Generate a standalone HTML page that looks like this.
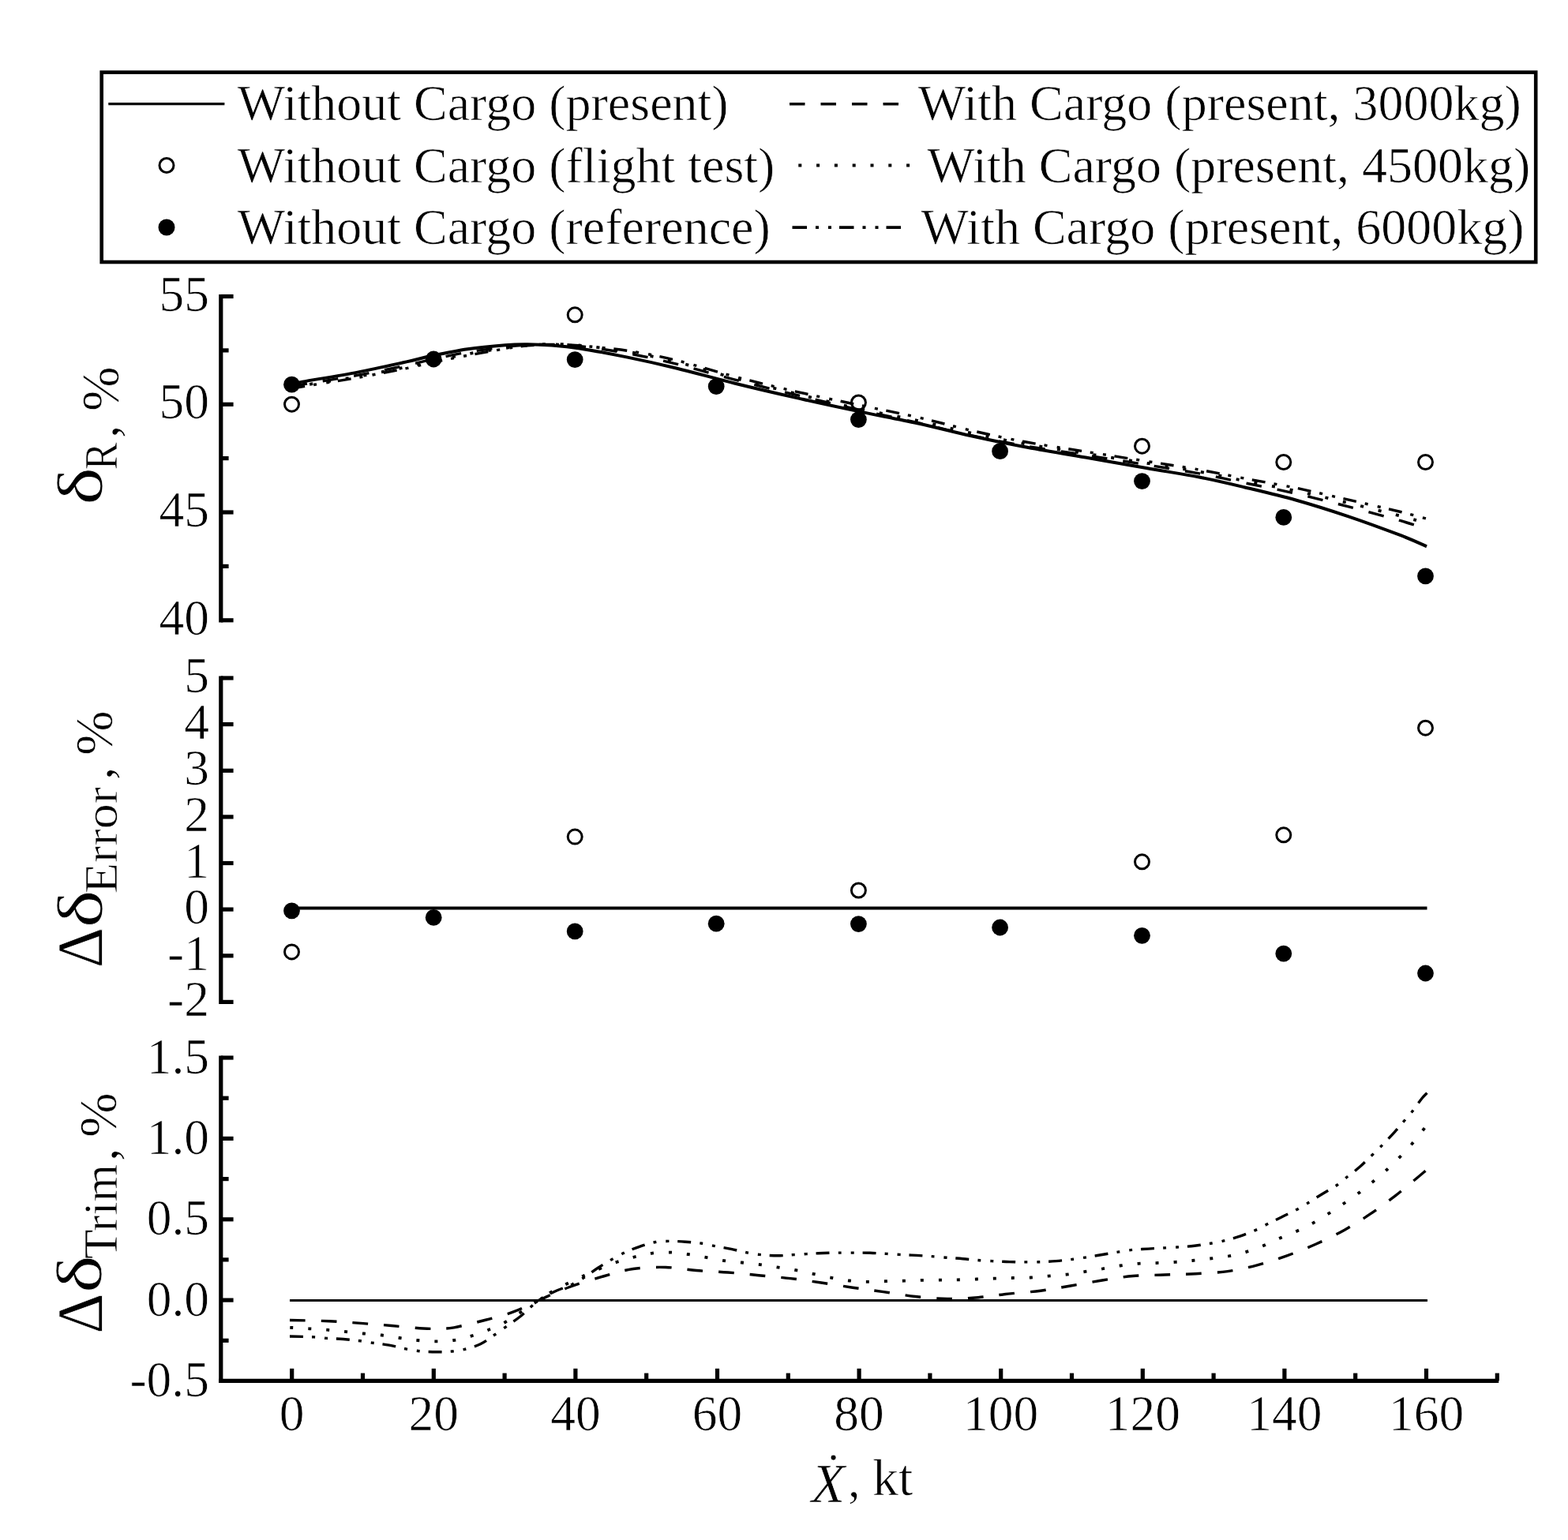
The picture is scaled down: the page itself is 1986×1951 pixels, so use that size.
<!DOCTYPE html>
<html><head><meta charset="utf-8"><title>Figure</title>
<style>
html,body{margin:0;padding:0;background:#fff;overflow:hidden;width:1986px;height:1951px;}
svg{display:block;}
text{font-family:'Liberation Serif', 'Times New Roman', serif;fill:#000;stroke:#fff;stroke-width:0.7px;}
</style></head><body>
<svg width="1986" height="1951" viewBox="0 0 1986 1951">
<rect x="0" y="0" width="1986" height="1951" fill="#fff"/>
<rect x="128.7" y="91.6" width="1816.5" height="240.4" fill="none" stroke="#000" stroke-width="4.6"/>
<line x1="137.3" y1="131.6" x2="284.4" y2="131.6" stroke="#000" stroke-width="3.2"/>
<circle cx="211" cy="209.5" r="9" fill="none" stroke="#000" stroke-width="3"/>
<circle cx="211" cy="288" r="10.5" fill="#000"/>
<text x="300.8" y="152.3" font-size="64">Without Cargo (present)</text>
<text x="300.8" y="230.8" font-size="64">Without Cargo (flight test)</text>
<text x="300.8" y="308.6" font-size="64">Without Cargo (reference)</text>
<line x1="1000" y1="131.8" x2="1140" y2="131.8" stroke="#000" stroke-width="3.4" stroke-dasharray="19.5 20"/>
<line x1="1011.3" y1="209.6" x2="1153" y2="209.6" stroke="#000" stroke-width="4" stroke-dasharray="4 18.8"/>
<line x1="1003.5" y1="288.2" x2="1142" y2="288.2" stroke="#000" stroke-width="3.8" stroke-dasharray="18.5 11 4 12 4 10"/>
<text x="1162.7" y="152.3" font-size="64">With Cargo (present, 3000kg)</text>
<text x="1174.3" y="230.8" font-size="64">With Cargo (present, 4500kg)</text>
<text x="1166.5" y="308.6" font-size="64">With Cargo (present, 6000kg)</text>
<line x1="279.8" y1="373.0" x2="279.8" y2="788.4" stroke="#000" stroke-width="5.2"/>
<line x1="279.8" y1="375.5" x2="295.6" y2="375.5" stroke="#000" stroke-width="5.2"/>
<text x="265" y="393.5" font-size="63.5" text-anchor="end">55</text>
<line x1="279.8" y1="512.3" x2="295.6" y2="512.3" stroke="#000" stroke-width="5.2"/>
<text x="265" y="530.3" font-size="63.5" text-anchor="end">50</text>
<line x1="279.8" y1="649.0" x2="295.6" y2="649.0" stroke="#000" stroke-width="5.2"/>
<text x="265" y="667.0" font-size="63.5" text-anchor="end">45</text>
<line x1="279.8" y1="785.8" x2="295.6" y2="785.8" stroke="#000" stroke-width="5.2"/>
<text x="265" y="803.8" font-size="63.5" text-anchor="end">40</text>
<line x1="279.8" y1="443.9" x2="289.6" y2="443.9" stroke="#000" stroke-width="5.2"/>
<line x1="279.8" y1="580.6" x2="289.6" y2="580.6" stroke="#000" stroke-width="5.2"/>
<line x1="279.8" y1="717.4" x2="289.6" y2="717.4" stroke="#000" stroke-width="5.2"/>
<line x1="279.8" y1="856.4" x2="279.8" y2="1272.0" stroke="#000" stroke-width="5.2"/>
<line x1="279.8" y1="859.0" x2="295.6" y2="859.0" stroke="#000" stroke-width="5.2"/>
<text x="265" y="877.0" font-size="63.5" text-anchor="end">5</text>
<line x1="279.8" y1="917.6" x2="295.6" y2="917.6" stroke="#000" stroke-width="5.2"/>
<text x="265" y="935.6" font-size="63.5" text-anchor="end">4</text>
<line x1="279.8" y1="976.3" x2="295.6" y2="976.3" stroke="#000" stroke-width="5.2"/>
<text x="265" y="994.3" font-size="63.5" text-anchor="end">3</text>
<line x1="279.8" y1="1034.9" x2="295.6" y2="1034.9" stroke="#000" stroke-width="5.2"/>
<text x="265" y="1052.9" font-size="63.5" text-anchor="end">2</text>
<line x1="279.8" y1="1093.5" x2="295.6" y2="1093.5" stroke="#000" stroke-width="5.2"/>
<text x="265" y="1111.5" font-size="63.5" text-anchor="end">1</text>
<line x1="279.8" y1="1152.1" x2="295.6" y2="1152.1" stroke="#000" stroke-width="5.2"/>
<text x="265" y="1170.1" font-size="63.5" text-anchor="end">0</text>
<line x1="279.8" y1="1210.8" x2="295.6" y2="1210.8" stroke="#000" stroke-width="5.2"/>
<text x="265" y="1228.8" font-size="63.5" text-anchor="end">-1</text>
<line x1="279.8" y1="1269.4" x2="295.6" y2="1269.4" stroke="#000" stroke-width="5.2"/>
<text x="265" y="1287.4" font-size="63.5" text-anchor="end">-2</text>
<line x1="279.8" y1="1337.4" x2="279.8" y2="1751.9" stroke="#000" stroke-width="5.2"/>
<line x1="279.8" y1="1340.0" x2="295.6" y2="1340.0" stroke="#000" stroke-width="5.2"/>
<text x="265" y="1359.5" font-size="63.5" text-anchor="end">1.5</text>
<line x1="279.8" y1="1442.4" x2="295.6" y2="1442.4" stroke="#000" stroke-width="5.2"/>
<text x="265" y="1461.9" font-size="63.5" text-anchor="end">1.0</text>
<line x1="279.8" y1="1544.8" x2="295.6" y2="1544.8" stroke="#000" stroke-width="5.2"/>
<text x="265" y="1564.2" font-size="63.5" text-anchor="end">0.5</text>
<line x1="279.8" y1="1647.1" x2="295.6" y2="1647.1" stroke="#000" stroke-width="5.2"/>
<text x="265" y="1666.6" font-size="63.5" text-anchor="end">0.0</text>
<text x="265" y="1769.0" font-size="63.5" text-anchor="end">-0.5</text>
<line x1="279.8" y1="1391.2" x2="289.6" y2="1391.2" stroke="#000" stroke-width="5.2"/>
<line x1="279.8" y1="1493.6" x2="289.6" y2="1493.6" stroke="#000" stroke-width="5.2"/>
<line x1="279.8" y1="1595.9" x2="289.6" y2="1595.9" stroke="#000" stroke-width="5.2"/>
<line x1="279.8" y1="1698.3" x2="289.6" y2="1698.3" stroke="#000" stroke-width="5.2"/>
<line x1="277.2" y1="1749.3" x2="1898.2" y2="1749.3" stroke="#000" stroke-width="5.2"/>
<line x1="369.7" y1="1749.3" x2="369.7" y2="1733.8" stroke="#000" stroke-width="5.2"/>
<text x="369.7" y="1812.2" font-size="63.5" text-anchor="middle">0</text>
<line x1="459.5" y1="1749.3" x2="459.5" y2="1739.6" stroke="#000" stroke-width="5.2"/>
<line x1="549.3" y1="1749.3" x2="549.3" y2="1733.8" stroke="#000" stroke-width="5.2"/>
<text x="549.3" y="1812.2" font-size="63.5" text-anchor="middle">20</text>
<line x1="639.1" y1="1749.3" x2="639.1" y2="1739.6" stroke="#000" stroke-width="5.2"/>
<line x1="728.9" y1="1749.3" x2="728.9" y2="1733.8" stroke="#000" stroke-width="5.2"/>
<text x="728.9" y="1812.2" font-size="63.5" text-anchor="middle">40</text>
<line x1="818.7" y1="1749.3" x2="818.7" y2="1739.6" stroke="#000" stroke-width="5.2"/>
<line x1="908.5" y1="1749.3" x2="908.5" y2="1733.8" stroke="#000" stroke-width="5.2"/>
<text x="908.5" y="1812.2" font-size="63.5" text-anchor="middle">60</text>
<line x1="998.3" y1="1749.3" x2="998.3" y2="1739.6" stroke="#000" stroke-width="5.2"/>
<line x1="1088.1" y1="1749.3" x2="1088.1" y2="1733.8" stroke="#000" stroke-width="5.2"/>
<text x="1088.1" y="1812.2" font-size="63.5" text-anchor="middle">80</text>
<line x1="1177.9" y1="1749.3" x2="1177.9" y2="1739.6" stroke="#000" stroke-width="5.2"/>
<line x1="1267.7" y1="1749.3" x2="1267.7" y2="1733.8" stroke="#000" stroke-width="5.2"/>
<text x="1267.7" y="1812.2" font-size="63.5" text-anchor="middle">100</text>
<line x1="1357.5" y1="1749.3" x2="1357.5" y2="1739.6" stroke="#000" stroke-width="5.2"/>
<line x1="1447.3" y1="1749.3" x2="1447.3" y2="1733.8" stroke="#000" stroke-width="5.2"/>
<text x="1447.3" y="1812.2" font-size="63.5" text-anchor="middle">120</text>
<line x1="1537.1" y1="1749.3" x2="1537.1" y2="1739.6" stroke="#000" stroke-width="5.2"/>
<line x1="1626.9" y1="1749.3" x2="1626.9" y2="1733.8" stroke="#000" stroke-width="5.2"/>
<text x="1626.9" y="1812.2" font-size="63.5" text-anchor="middle">140</text>
<line x1="1716.7" y1="1749.3" x2="1716.7" y2="1739.6" stroke="#000" stroke-width="5.2"/>
<line x1="1806.5" y1="1749.3" x2="1806.5" y2="1733.8" stroke="#000" stroke-width="5.2"/>
<text x="1806.5" y="1812.2" font-size="63.5" text-anchor="middle">160</text>
<line x1="1896.3" y1="1749.3" x2="1896.3" y2="1739.6" stroke="#000" stroke-width="5.2"/>
<path d="M369.7,489.8 C371.9,489.4 369.3,489.4 383.2,487.0 C397.1,484.6 431.0,479.4 452.9,475.4 C474.8,471.4 499.3,466.2 514.8,462.9 C530.3,459.6 532.9,458.5 545.8,455.7 C558.7,453.0 576.5,448.9 592.2,446.2 C607.9,443.5 627.4,441.0 640.0,439.5 C652.6,438.0 658.2,437.6 668.0,437.1 C677.8,436.6 688.0,436.3 698.8,436.5 C709.6,436.7 716.9,436.6 732.9,438.4 C748.9,440.3 774.2,443.7 794.8,447.5 C815.4,451.3 834.2,455.5 856.7,461.1 C879.2,466.6 905.0,474.4 930.0,480.8 C955.0,487.3 981.2,493.7 1007.0,500.0 C1032.8,506.2 1059.2,512.6 1085.0,518.5 C1110.8,524.4 1138.0,530.0 1162.0,535.5 C1186.0,541.1 1206.5,546.7 1229.0,551.5 C1251.5,556.4 1272.7,560.4 1297.0,564.6 C1321.3,568.8 1349.2,572.5 1375.0,576.6 C1400.8,580.6 1428.0,584.9 1452.0,588.8 C1476.0,592.7 1498.3,596.1 1519.0,599.9 C1539.7,603.7 1555.5,607.4 1576.0,611.7 C1596.5,615.9 1620.0,620.4 1642.0,625.5 C1664.0,630.5 1686.0,636.2 1708.0,641.9 C1730.0,647.7 1757.5,655.0 1774.0,659.7 C1790.5,664.5 1801.5,668.5 1807.0,670.3" fill="none" stroke="#000" stroke-width="3.4" stroke-dasharray="19.7 20.05"/>
<path d="M369.7,491.1 C371.9,490.6 369.3,490.6 383.2,488.3 C397.1,486.0 431.0,481.0 452.9,477.1 C474.8,473.2 499.3,468.1 514.8,464.9 C530.3,461.7 532.9,460.6 545.8,457.9 C558.7,455.1 576.5,451.2 592.2,448.4 C607.9,445.5 627.4,442.7 640.0,440.9 C652.6,439.1 658.2,438.3 668.0,437.5 C677.8,436.7 688.0,436.1 698.8,436.1 C709.6,436.1 716.9,435.9 732.9,437.4 C748.9,439.0 774.2,442.1 794.8,445.6 C815.4,449.1 834.2,452.9 856.7,458.5 C879.2,464.0 905.0,472.3 930.0,478.9 C955.0,485.6 981.2,492.0 1007.0,498.4 C1032.8,504.8 1059.2,511.6 1085.0,517.3 C1110.8,523.0 1138.0,527.6 1162.0,532.8 C1186.0,538.0 1206.5,543.5 1229.0,548.4 C1251.5,553.3 1272.7,557.8 1297.0,562.1 C1321.3,566.5 1349.2,570.5 1375.0,574.6 C1400.8,578.7 1428.0,582.9 1452.0,586.7 C1476.0,590.5 1498.3,593.9 1519.0,597.6 C1539.7,601.3 1555.5,605.0 1576.0,609.1 C1596.5,613.1 1620.0,617.3 1642.0,622.0 C1664.0,626.7 1686.0,632.0 1708.0,637.3 C1730.0,642.6 1757.5,649.5 1774.0,653.7 C1790.5,658.0 1801.5,661.3 1807.0,662.8" fill="none" stroke="#000" stroke-width="3.8" stroke-dasharray="4 19.0"/>
<path d="M369.7,492.6 C371.9,492.1 369.3,492.1 383.2,489.7 C397.1,487.4 431.0,482.2 452.9,478.4 C474.8,474.5 499.3,469.7 514.8,466.6 C530.3,463.5 532.9,462.4 545.8,459.7 C558.7,456.9 576.5,453.3 592.2,450.3 C607.9,447.3 627.4,443.8 640.0,441.7 C652.6,439.7 658.2,438.9 668.0,437.9 C677.8,437.0 688.0,436.3 698.8,436.3 C709.6,436.2 716.9,436.5 732.9,437.8 C748.9,439.2 774.2,441.2 794.8,444.3 C815.4,447.4 834.2,451.1 856.7,456.5 C879.2,461.9 905.0,470.4 930.0,476.9 C955.0,483.5 981.2,489.9 1007.0,495.8 C1032.8,501.8 1059.2,507.1 1085.0,512.5 C1110.8,518.0 1138.0,523.1 1162.0,528.6 C1186.0,534.0 1206.5,539.9 1229.0,545.1 C1251.5,550.2 1272.7,555.0 1297.0,559.5 C1321.3,564.0 1349.2,568.1 1375.0,572.2 C1400.8,576.3 1428.0,580.5 1452.0,584.3 C1476.0,588.1 1498.3,591.5 1519.0,595.1 C1539.7,598.7 1555.5,602.2 1576.0,606.0 C1596.5,609.9 1620.0,613.8 1642.0,618.3 C1664.0,622.9 1686.0,628.2 1708.0,633.2 C1730.0,638.2 1757.5,644.5 1774.0,648.5 C1790.5,652.5 1801.5,655.8 1807.0,657.2" fill="none" stroke="#000" stroke-width="3.4" stroke-dasharray="17 11 4 12.3 4 10.7"/>
<path d="M369.7,486.5 C371.9,486.0 369.3,486.1 383.2,483.6 C397.1,481.1 431.0,475.8 452.9,471.6 C474.8,467.4 499.3,461.8 514.8,458.4 C530.3,455.0 532.9,453.7 545.8,451.0 C558.7,448.3 576.5,444.5 592.2,442.2 C607.9,439.9 627.4,438.2 640.0,437.2 C652.6,436.2 658.2,436.2 668.0,436.3 C677.8,436.4 688.0,436.7 698.8,437.5 C709.6,438.3 716.9,438.7 732.9,441.2 C748.9,443.7 774.2,448.4 794.8,452.6 C815.4,456.8 834.2,461.0 856.7,466.5 C879.2,472.0 905.0,479.3 930.0,485.5 C955.0,491.7 981.2,497.8 1007.0,503.6 C1032.8,509.5 1059.2,515.2 1085.0,520.6 C1110.8,526.0 1138.0,531.0 1162.0,536.2 C1186.0,541.4 1206.5,547.0 1229.0,552.0 C1251.5,557.0 1272.7,561.4 1297.0,566.0 C1321.3,570.6 1349.2,575.0 1375.0,579.5 C1400.8,584.0 1428.0,588.8 1452.0,593.0 C1476.0,597.2 1498.3,600.5 1519.0,604.5 C1539.7,608.5 1555.5,612.3 1576.0,617.2 C1596.5,622.1 1620.0,627.5 1642.0,633.7 C1664.0,639.9 1686.0,646.9 1708.0,654.3 C1730.0,661.7 1757.5,671.9 1774.0,678.2 C1790.5,684.5 1801.5,689.9 1807.0,692.3" fill="none" stroke="#000" stroke-width="4"/>
<circle cx="369.5" cy="487.2" r="10.4" fill="#000"/>
<circle cx="549.2" cy="455.0" r="10.4" fill="#000"/>
<circle cx="728.2" cy="455.6" r="10.4" fill="#000"/>
<circle cx="907.2" cy="489.6" r="10.4" fill="#000"/>
<circle cx="1087.4" cy="531.6" r="10.4" fill="#000"/>
<circle cx="1266.6" cy="571.7" r="10.4" fill="#000"/>
<circle cx="1446.5" cy="609.6" r="10.4" fill="#000"/>
<circle cx="1625.8" cy="655.4" r="10.4" fill="#000"/>
<circle cx="1805.5" cy="729.9" r="10.4" fill="#000"/>
<circle cx="369.5" cy="512.2" r="9.0" fill="none" stroke="#000" stroke-width="3"/>
<circle cx="728.2" cy="398.8" r="9.0" fill="none" stroke="#000" stroke-width="3"/>
<circle cx="1087.4" cy="510.0" r="9.0" fill="none" stroke="#000" stroke-width="3"/>
<circle cx="1446.5" cy="565.2" r="9.0" fill="none" stroke="#000" stroke-width="3"/>
<circle cx="1625.8" cy="585.5" r="9.0" fill="none" stroke="#000" stroke-width="3"/>
<circle cx="1805.5" cy="585.5" r="9.0" fill="none" stroke="#000" stroke-width="3"/>
<line x1="369.7" y1="1150.4" x2="1807.5" y2="1150.4" stroke="#000" stroke-width="4"/>
<circle cx="369.5" cy="1153.8" r="10.4" fill="#000"/>
<circle cx="549.2" cy="1162.4" r="10.4" fill="#000"/>
<circle cx="728.2" cy="1179.9" r="10.4" fill="#000"/>
<circle cx="907.2" cy="1170.2" r="10.4" fill="#000"/>
<circle cx="1087.4" cy="1170.6" r="10.4" fill="#000"/>
<circle cx="1266.6" cy="1175.0" r="10.4" fill="#000"/>
<circle cx="1446.5" cy="1185.3" r="10.4" fill="#000"/>
<circle cx="1625.8" cy="1208.1" r="10.4" fill="#000"/>
<circle cx="1805.5" cy="1233.0" r="10.4" fill="#000"/>
<circle cx="369.5" cy="1205.9" r="9.0" fill="none" stroke="#000" stroke-width="3"/>
<circle cx="728.2" cy="1060.1" r="9.0" fill="none" stroke="#000" stroke-width="3"/>
<circle cx="1087.4" cy="1128.0" r="9.0" fill="none" stroke="#000" stroke-width="3"/>
<circle cx="1446.5" cy="1091.8" r="9.0" fill="none" stroke="#000" stroke-width="3"/>
<circle cx="1625.8" cy="1057.8" r="9.0" fill="none" stroke="#000" stroke-width="3"/>
<circle cx="1805.5" cy="922.2" r="9.0" fill="none" stroke="#000" stroke-width="3"/>
<line x1="367" y1="1647.6" x2="1808" y2="1647.6" stroke="#000" stroke-width="3"/>
<path d="M367.0,1672.5 C375.3,1672.7 402.0,1673.0 417.0,1673.7 C432.0,1674.4 443.8,1675.4 457.0,1676.4 C470.2,1677.4 482.8,1678.4 496.0,1679.5 C509.2,1680.6 526.0,1682.4 536.0,1683.0 C546.0,1683.6 549.5,1683.4 556.0,1683.2 C562.5,1683.0 565.3,1683.6 575.0,1681.8 C584.7,1680.0 601.3,1675.8 614.0,1672.5 C626.7,1669.2 639.7,1665.9 651.0,1661.7 C662.3,1657.5 670.5,1652.6 682.0,1647.5 C693.5,1642.4 706.3,1636.1 720.0,1631.0 C733.7,1625.9 750.3,1620.9 764.0,1617.0 C777.7,1613.1 788.8,1609.4 802.0,1607.5 C815.2,1605.6 829.7,1605.2 843.0,1605.5 C856.3,1605.8 868.8,1608.4 882.0,1609.5 C895.2,1610.6 908.8,1611.0 922.0,1612.0 C935.2,1613.0 947.8,1614.4 961.0,1615.7 C974.2,1617.0 987.8,1618.0 1001.0,1619.6 C1014.2,1621.1 1026.8,1623.1 1040.0,1625.0 C1053.2,1626.9 1066.8,1629.3 1080.0,1631.2 C1093.2,1633.1 1105.8,1634.7 1119.0,1636.6 C1132.2,1638.5 1145.5,1641.0 1159.0,1642.5 C1172.5,1644.0 1186.7,1645.3 1200.0,1645.5 C1213.3,1645.7 1226.2,1644.8 1239.0,1643.7 C1251.8,1642.6 1263.8,1640.5 1277.0,1639.1 C1290.2,1637.7 1304.8,1636.9 1318.0,1635.2 C1331.2,1633.5 1343.0,1631.2 1356.0,1629.0 C1369.0,1626.8 1382.8,1624.1 1396.0,1622.0 C1409.2,1619.9 1421.8,1617.7 1435.0,1616.5 C1448.2,1615.3 1461.8,1615.5 1475.0,1615.0 C1488.2,1614.5 1500.7,1614.4 1514.0,1613.7 C1527.3,1613.0 1541.8,1612.4 1555.0,1610.6 C1568.2,1608.8 1580.5,1605.9 1593.0,1602.6 C1605.5,1599.3 1617.7,1595.2 1630.0,1590.8 C1642.3,1586.4 1654.8,1581.4 1667.0,1576.0 C1679.2,1570.6 1691.5,1564.6 1703.0,1558.2 C1714.5,1551.8 1725.2,1545.0 1736.0,1537.7 C1746.8,1530.4 1757.8,1522.2 1768.0,1514.3 C1778.2,1506.4 1790.7,1495.7 1797.0,1490.5 C1803.3,1485.3 1804.5,1484.2 1806.0,1483.0" fill="none" stroke="#000" stroke-width="3.4" stroke-dasharray="19.7 20.05"/>
<path d="M367.3,1681.8 C371.4,1682.0 383.6,1682.8 391.7,1683.3 C399.8,1683.8 407.9,1684.2 415.7,1684.9 C423.4,1685.6 430.7,1686.4 438.2,1687.2 C445.7,1688.0 453.0,1688.8 460.6,1689.5 C468.2,1690.2 476.2,1690.6 483.8,1691.5 C491.4,1692.4 498.8,1693.9 506.3,1695.0 C513.8,1696.1 521.1,1697.3 528.7,1698.0 C536.3,1698.7 544.3,1699.3 551.9,1699.3 C559.5,1699.3 566.9,1699.1 574.4,1698.0 C581.9,1696.9 589.6,1694.7 596.8,1692.6 C604.0,1690.5 610.5,1688.1 617.7,1685.2 C624.9,1682.3 633.0,1678.9 640.0,1675.0 C647.0,1671.1 653.0,1666.6 660.0,1662.0 C667.0,1657.4 674.5,1652.3 682.0,1647.5 C689.5,1642.7 695.3,1638.2 705.0,1633.0 C714.7,1627.8 728.3,1621.3 740.0,1616.0 C751.7,1610.7 764.4,1604.9 775.0,1601.0 C785.6,1597.1 795.0,1594.7 803.4,1592.5 C811.8,1590.3 817.5,1588.8 825.1,1587.8 C832.7,1586.8 841.4,1586.4 849.1,1586.6 C856.8,1586.8 864.0,1588.0 871.5,1589.0 C879.0,1590.0 886.4,1591.4 894.0,1592.8 C901.6,1594.2 909.4,1596.1 917.0,1597.2 C924.6,1598.3 931.9,1598.7 939.5,1599.5 C947.1,1600.3 955.0,1601.1 962.7,1602.1 C970.4,1603.1 978.3,1604.5 985.9,1605.7 C993.5,1606.9 1001.0,1607.8 1008.4,1609.2 C1015.8,1610.6 1022.5,1612.3 1030.0,1613.9 C1037.5,1615.5 1045.7,1617.4 1053.3,1618.8 C1060.9,1620.2 1068.2,1621.7 1075.7,1622.5 C1083.2,1623.3 1090.4,1623.7 1098.1,1623.8 C1105.8,1623.9 1114.3,1623.4 1122.1,1623.2 C1129.8,1623.0 1137.1,1622.9 1144.6,1622.7 C1152.1,1622.5 1159.3,1622.1 1167.0,1621.9 C1174.7,1621.7 1183.3,1621.7 1191.0,1621.6 C1198.7,1621.5 1205.6,1621.5 1213.3,1621.3 C1221.0,1621.1 1229.6,1620.8 1237.3,1620.5 C1245.0,1620.2 1252.2,1620.0 1259.7,1619.7 C1267.2,1619.5 1274.6,1619.2 1282.2,1619.0 C1289.8,1618.8 1297.8,1618.9 1305.4,1618.5 C1313.0,1618.1 1320.2,1617.2 1327.8,1616.6 C1335.4,1615.9 1343.4,1615.5 1351.0,1614.6 C1358.6,1613.7 1366.0,1612.4 1373.5,1611.2 C1381.0,1610.0 1388.4,1608.8 1395.9,1607.5 C1403.4,1606.2 1410.8,1604.6 1418.4,1603.5 C1426.0,1602.4 1433.9,1601.4 1441.6,1600.8 C1449.2,1600.2 1456.5,1600.4 1464.3,1600.1 C1472.1,1599.8 1480.8,1599.4 1488.5,1598.9 C1496.2,1598.4 1502.9,1597.7 1510.2,1597.0 C1517.5,1596.3 1524.9,1595.4 1532.4,1594.5 C1539.9,1593.6 1548.0,1592.8 1555.4,1591.5 C1562.8,1590.2 1569.7,1588.7 1577.0,1586.5 C1584.3,1584.3 1592.2,1581.4 1599.3,1578.5 C1606.4,1575.6 1612.7,1572.2 1619.7,1569.2 C1626.7,1566.2 1634.5,1563.3 1641.4,1560.2 C1648.3,1557.1 1654.6,1554.2 1661.2,1550.6 C1667.8,1547.0 1674.9,1542.5 1681.3,1538.4 C1687.7,1534.4 1693.5,1530.5 1699.7,1526.3 C1705.9,1522.1 1712.2,1518.0 1718.2,1513.5 C1724.2,1509.0 1730.2,1504.0 1735.9,1499.4 C1741.6,1494.8 1746.7,1490.9 1752.2,1485.9 C1757.8,1480.9 1763.5,1475.3 1769.2,1469.6 C1774.9,1463.9 1781.0,1457.7 1786.2,1451.8 C1791.4,1445.9 1797.1,1438.2 1800.4,1434.1 C1803.7,1430.0 1805.1,1428.2 1806.0,1427.0" fill="none" stroke="#000" stroke-width="3.8" stroke-dasharray="4 19.0"/>
<path d="M367.0,1693.0 C372.2,1693.2 390.3,1693.5 398.0,1693.9 C405.7,1694.3 407.3,1695.0 413.4,1695.4 C419.5,1695.8 427.5,1695.9 434.7,1696.5 C441.9,1697.1 450.7,1698.0 456.7,1698.8 C462.7,1699.6 464.7,1700.2 470.7,1701.1 C476.7,1702.0 485.6,1702.9 492.8,1704.2 C500.0,1705.5 507.9,1707.7 514.0,1708.9 C520.1,1710.1 523.2,1710.8 529.5,1711.5 C535.8,1712.2 544.8,1712.7 552.0,1712.8 C559.2,1712.9 566.9,1712.5 572.8,1712.0 C578.7,1711.5 581.6,1711.2 587.6,1709.7 C593.6,1708.2 602.3,1705.7 608.5,1702.7 C614.7,1699.8 619.4,1695.8 625.0,1692.0 C630.6,1688.2 636.2,1684.2 642.0,1680.0 C647.8,1675.8 653.3,1672.4 660.0,1667.0 C666.7,1661.6 674.8,1652.7 682.0,1647.5 C689.2,1642.3 695.8,1639.4 703.0,1636.0 C710.2,1632.6 718.5,1630.2 725.0,1627.0 C731.5,1623.8 736.7,1620.4 742.0,1617.0 C747.3,1613.6 751.5,1610.1 757.0,1606.5 C762.5,1602.9 769.2,1598.8 775.0,1595.5 C780.8,1592.2 786.2,1589.2 792.0,1586.5 C797.8,1583.8 803.6,1581.5 810.0,1579.3 C816.4,1577.1 824.4,1574.7 830.5,1573.5 C836.6,1572.3 840.5,1572.5 846.8,1572.4 C853.0,1572.4 860.9,1572.7 868.0,1573.2 C875.1,1573.7 883.3,1574.4 889.3,1575.2 C895.3,1576.0 897.9,1577.1 904.0,1578.3 C910.1,1579.5 918.8,1580.9 926.0,1582.4 C933.2,1583.9 941.2,1585.9 947.2,1587.1 C953.2,1588.3 955.6,1588.8 961.9,1589.4 C968.2,1590.0 977.6,1590.8 984.8,1590.8 C992.0,1590.8 999.2,1590.0 1005.3,1589.6 C1011.4,1589.2 1015.2,1588.9 1021.5,1588.6 C1027.8,1588.2 1035.6,1587.8 1042.8,1587.5 C1050.0,1587.2 1058.8,1587.2 1064.9,1587.1 C1071.0,1587.0 1073.4,1587.1 1079.6,1587.1 C1085.8,1587.1 1094.8,1587.1 1102.0,1587.3 C1109.2,1587.5 1116.7,1588.1 1122.9,1588.4 C1129.1,1588.8 1132.9,1589.1 1139.2,1589.4 C1145.5,1589.7 1153.5,1590.0 1160.8,1590.4 C1168.1,1590.8 1176.7,1591.4 1183.0,1591.9 C1189.3,1592.4 1192.5,1592.7 1198.6,1593.2 C1204.7,1593.7 1212.4,1594.1 1219.5,1594.7 C1226.6,1595.3 1234.9,1596.3 1241.1,1596.8 C1247.3,1597.3 1250.3,1597.3 1256.6,1597.6 C1262.9,1597.9 1271.5,1598.4 1278.7,1598.6 C1285.9,1598.8 1293.9,1598.9 1300.0,1598.9 C1306.1,1598.9 1309.2,1599.0 1315.4,1598.8 C1321.7,1598.6 1330.1,1598.2 1337.5,1597.6 C1344.9,1597.0 1353.5,1596.0 1359.6,1595.2 C1365.7,1594.5 1368.2,1594.0 1374.3,1593.1 C1380.4,1592.1 1388.8,1590.7 1396.0,1589.5 C1403.2,1588.3 1411.5,1586.9 1417.6,1585.9 C1423.6,1584.9 1426.2,1584.2 1432.3,1583.6 C1438.4,1583.0 1447.1,1582.5 1454.4,1582.1 C1461.7,1581.6 1470.0,1581.2 1476.1,1580.9 C1482.2,1580.6 1484.8,1580.4 1491.0,1580.0 C1497.2,1579.6 1505.7,1579.1 1513.0,1578.3 C1520.3,1577.5 1528.9,1576.0 1534.9,1575.0 C1540.9,1574.0 1543.3,1573.7 1549.2,1572.2 C1555.1,1570.7 1563.7,1568.4 1570.5,1566.1 C1577.3,1563.8 1584.5,1561.0 1590.0,1558.6 C1595.5,1556.2 1598.2,1554.4 1603.7,1551.6 C1609.2,1548.8 1616.5,1545.2 1623.1,1541.9 C1629.7,1538.6 1637.9,1534.9 1643.3,1532.0 C1648.7,1529.1 1650.4,1527.8 1655.7,1524.6 C1661.0,1521.3 1668.7,1516.3 1675.0,1512.5 C1681.3,1508.7 1688.5,1504.8 1693.3,1501.5 C1698.1,1498.2 1699.3,1496.6 1704.0,1492.8 C1708.7,1489.0 1716.2,1483.6 1721.7,1478.8 C1727.2,1474.0 1732.9,1468.1 1737.3,1463.9 C1741.7,1459.7 1743.7,1457.9 1748.0,1453.5 C1752.3,1449.1 1758.2,1443.1 1763.2,1437.7 C1768.2,1432.3 1773.5,1425.9 1777.7,1421.0 C1781.9,1416.1 1784.5,1413.4 1788.4,1408.5 C1792.3,1403.6 1797.8,1395.5 1801.0,1391.5 C1804.2,1387.5 1806.4,1385.7 1807.5,1384.5" fill="none" stroke="#000" stroke-width="3.4" stroke-dasharray="17 11 4 12.3 4 10.7"/>
<text transform="translate(129.0,639.8) rotate(-90) scale(1.25,1)" font-size="81">δ</text>
<text transform="translate(148.2,595.0) rotate(-90) scale(0.88,1)" font-size="58.5">R</text>
<text transform="translate(149.0,555.0) rotate(-90)" font-size="66">,</text>
<text transform="translate(149.8,521.0) rotate(-90)" font-size="68">%</text>
<text transform="translate(129.4,1226.3) rotate(-90) scale(0.964,1)" font-size="83">Δ</text>
<text transform="translate(128.6,1175.2) rotate(-90) scale(1.25,1)" font-size="81">δ</text>
<text transform="translate(148.4,1132.0) rotate(-90) scale(1.085,1)" font-size="59">Error</text>
<text transform="translate(141.5,988.0) rotate(-90)" font-size="66">,</text>
<text transform="translate(141.7,957.0) rotate(-90)" font-size="68">%</text>
<text transform="translate(128.6,1689.8) rotate(-90) scale(0.964,1)" font-size="83">Δ</text>
<text transform="translate(127.8,1638.0) rotate(-90) scale(1.25,1)" font-size="81">δ</text>
<text transform="translate(148.2,1595.0) rotate(-90)" font-size="61">Trim</text>
<text transform="translate(147.5,1471.0) rotate(-90)" font-size="66">,</text>
<text transform="translate(147.2,1441.0) rotate(-90)" font-size="68">%</text>
<text x="1027.6" y="1902.7" font-size="70" font-style="italic">X</text>
<text x="1044.5" y="1887" font-size="66">˙</text>
<text x="1074" y="1896" font-size="62">,</text>
<text x="1105" y="1894.4" font-size="66">kt</text>
</svg>
</body></html>
